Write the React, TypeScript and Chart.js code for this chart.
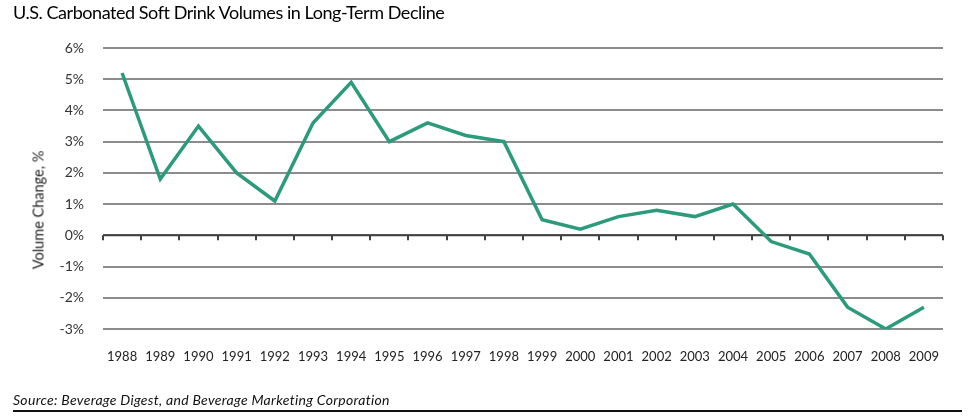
import React, { useEffect, useRef } from "react";
import { Chart, registerables } from "chart.js";

Chart.register(...registerables);

const years = [
  "1988", "1989", "1990", "1991", "1992", "1993", "1994", "1995", "1996", "1997", "1998",
  "1999", "2000", "2001", "2002", "2003", "2004", "2005", "2006", "2007", "2008", "2009",
];
const volumeChange = [
  5.2, 1.8, 3.5, 2.0, 1.1, 3.6, 4.9, 3.0, 3.6, 3.2, 3.0,
  0.5, 0.2, 0.6, 0.8, 0.6, 1.0, -0.2, -0.6, -2.3, -3.0, -2.3,
];
const yMin = -3;
const yMax = 6;
const chartTitle = "U.S. Carbonated Soft Drink Volumes in Long-Term Decline";
const yTitle = "Volume Change, %";
const sourceText = "Source: Beverage Digest, and Beverage Marketing Corporation";

const FONT = "Lato, 'Open Sans', sans-serif";

const zeroAxisPlugin = {
  id: "zeroAxis",
  beforeDatasetsDraw(chart: any) {
    const { ctx, chartArea } = chart;
    const x = chart.scales.x;
    const y = chart.scales.y;
    const y0 = y.getPixelForValue(0);
    ctx.save();
    ctx.strokeStyle = "#404040";
    ctx.lineWidth = 2;
    ctx.beginPath();
    ctx.moveTo(chartArea.left, y0);
    ctx.lineTo(chartArea.right, y0);
    for (let i = 0; i <= years.length; i++) {
      const px = Math.round(x.getPixelForValue(i - 0.5));
      ctx.moveTo(px, y0);
      ctx.lineTo(px, y0 + 5);
    }
    ctx.stroke();
    ctx.restore();
  },
};

export default function App() {
  const canvasRef = useRef<HTMLCanvasElement | null>(null);

  useEffect(() => {
    document.body.style.margin = "0";
    const canvas = canvasRef.current;
    if (!canvas) return;
    const chart = new Chart(canvas, {
      type: "line",
      data: {
        labels: years,
        datasets: [
          {
            data: volumeChange,
            borderColor: "#2b9b7b",
            borderWidth: 3.5,
            pointRadius: 0,
            tension: 0,
            fill: false,
            borderJoinStyle: "miter",
          },
        ],
      },
      options: {
        animation: false,
        responsive: false,
        maintainAspectRatio: false,
        layout: { padding: { left: 0, top: 48, right: 28, bottom: 29 } },
        plugins: {
          legend: { display: false },
          tooltip: { enabled: false },
          title: { display: false },
        },
        scales: {
          x: {
            type: "category",
            offset: true,
            grid: { display: false, drawTicks: false },
            border: { display: false },
            ticks: {
              color: "#222",
              font: { family: FONT, size: 13 },
              padding: 20,
              maxRotation: 0,
              autoSkip: false,
            },
            afterFit: (scale: any) => {
              scale.height = 60;
            },
          },
          y: {
            min: yMin,
            max: yMax,
            grid: { color: "#8c8c8c", lineWidth: 2, drawTicks: false },
            border: { display: false },
            ticks: {
              stepSize: 1,
              color: "#333",
              font: { family: FONT, size: 14 },
              padding: 19,
              callback: (v: any) => `${v}%`,
            },
            afterFit: (scale: any) => {
              scale.width = 103;
            },
          },
        },
      },
      plugins: [zeroAxisPlugin],
    });
    return () => chart.destroy();
  }, []);

  return (
    <div style={{ position: "absolute", left: 0, top: 0, width: 971, height: 418, background: "#fff", overflow: "hidden" }}>
      <canvas ref={canvasRef} width={971} height={418} style={{ position: "absolute", left: 0, top: 0, width: 971, height: 418 }} />
      <div
        style={{
          position: "absolute",
          left: 13,
          top: 3,
          fontFamily: FONT,
          fontSize: 18,
          lineHeight: "18px",
          letterSpacing: "-0.45px",
          color: "#000",
          whiteSpace: "nowrap",
        }}
      >
        {chartTitle}
      </div>
      <div
        style={{
          position: "absolute",
          left: 38,
          top: 210,
          transform: "translate(-50%, -50%) rotate(-90deg)",
          fontFamily: FONT,
          fontSize: 14.5,
          lineHeight: "15px",
          color: "#222",
          whiteSpace: "nowrap",
        }}
      >
        {yTitle}
      </div>
      <div
        style={{
          position: "absolute",
          left: 13,
          top: 393,
          fontFamily: FONT,
          fontStyle: "italic",
          fontSize: 14,
          lineHeight: "14px",
          letterSpacing: "0.3px",
          color: "#111",
          whiteSpace: "nowrap",
        }}
      >
        {sourceText}
      </div>
      <div style={{ position: "absolute", left: 13, top: 410, width: 949, height: 1.5, background: "#111" }} />
    </div>
  );
}
